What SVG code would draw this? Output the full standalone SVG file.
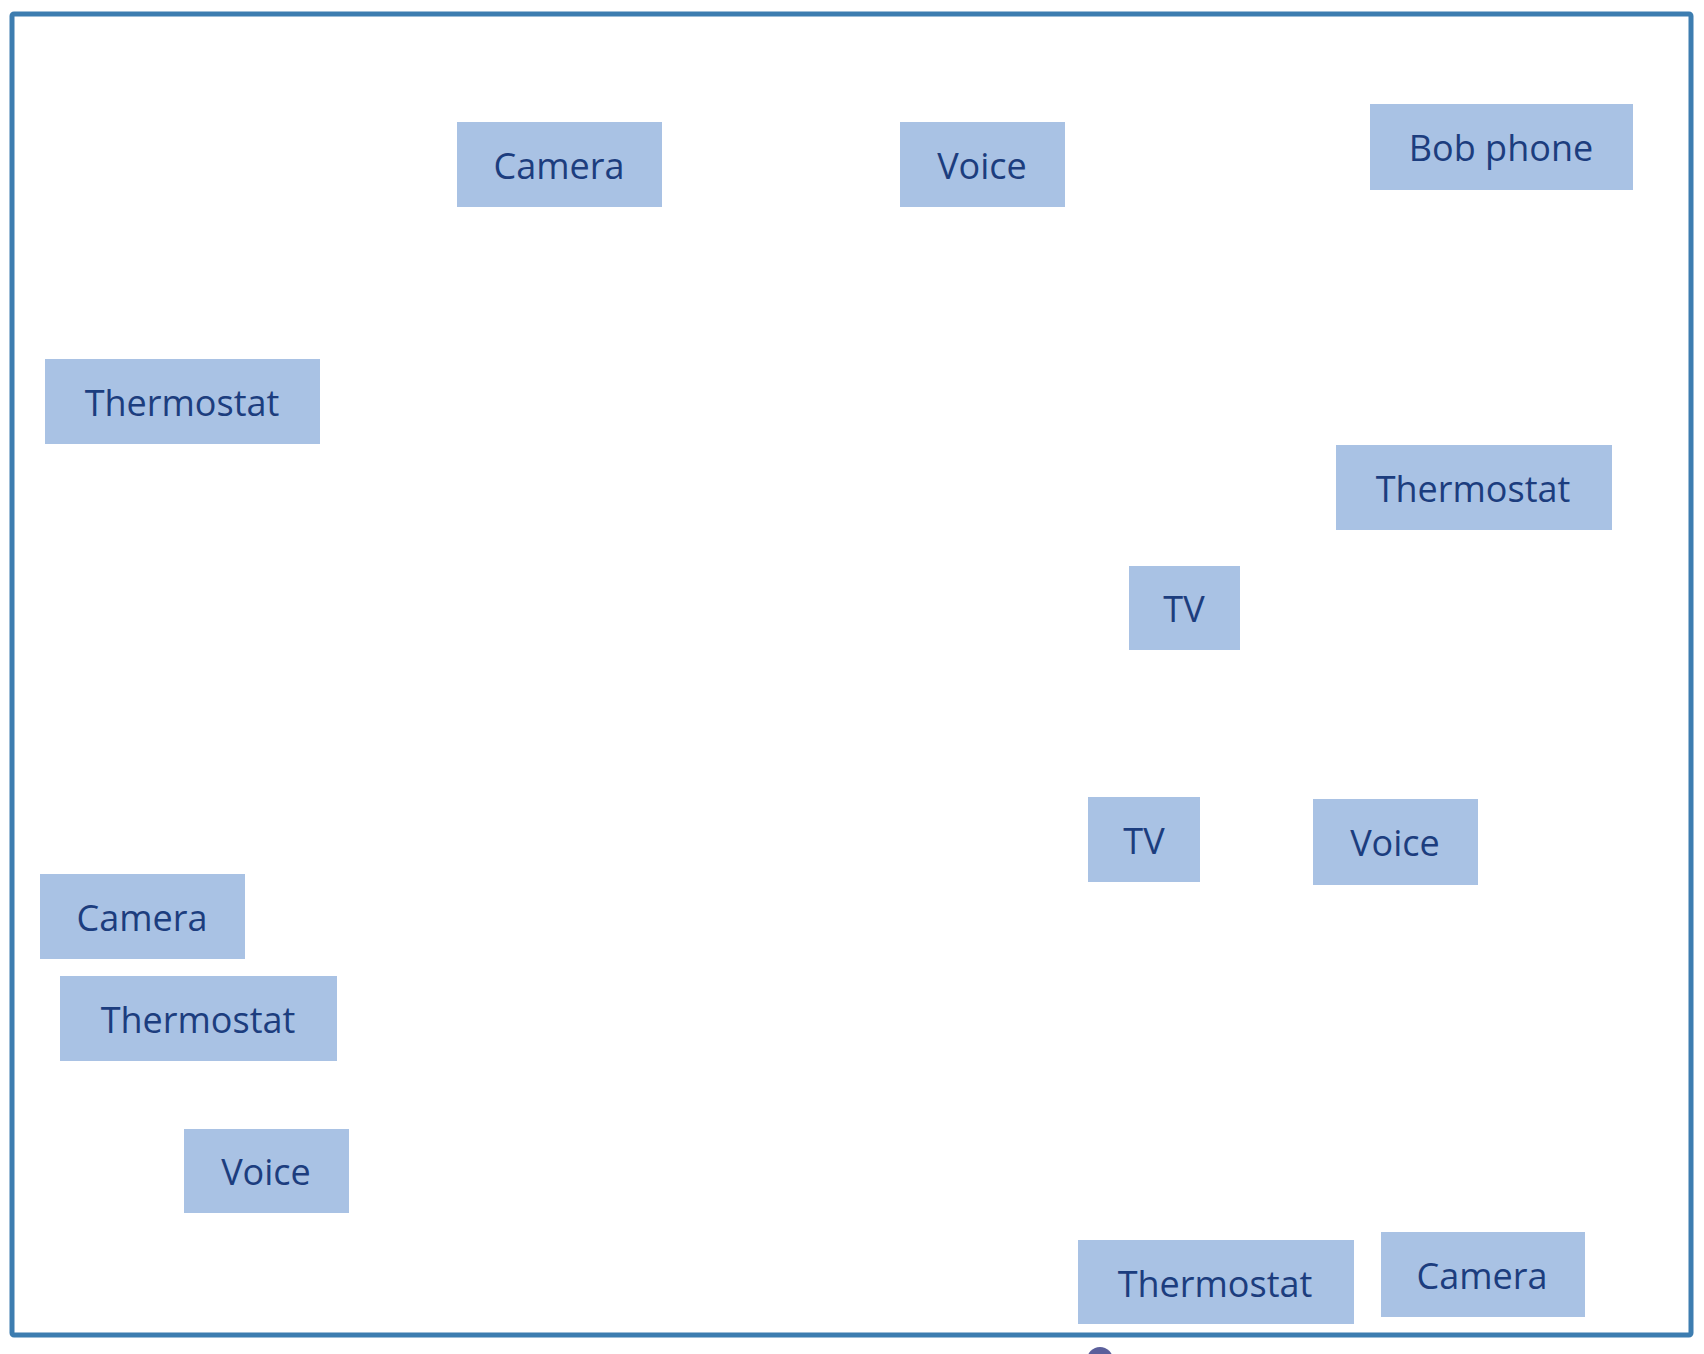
<svg xmlns="http://www.w3.org/2000/svg" width="1704" height="1354" viewBox="0 0 1704 1354">
<style>
.b{fill:#a9c2e4}
.t{font-family:"Open Sans","Noto Sans",sans-serif;font-size:36px;fill:#1c3d7e;text-anchor:middle;dominant-baseline:central}
</style>
<rect width="1704" height="1354" fill="#fff"/>
<rect x="12" y="14" width="1679" height="1321" fill="none" stroke="#3d7db0" stroke-width="5" rx="2"/>
<circle cx="1100" cy="1360" r="13" fill="#5b5f9b"/>
<g id="camera1"><rect class="b" x="457" y="122" width="205" height="85"/><text class="t" x="559" y="165">Camera</text></g>
<g id="voice1"><rect class="b" x="900" y="122" width="165" height="85"/><text class="t" x="982" y="165">Voice</text></g>
<g id="bobphone"><rect class="b" x="1370" y="104" width="263" height="86"/><text class="t" x="1501" y="147">Bob phone</text></g>
<g id="thermostat1"><rect class="b" x="45" y="359" width="275" height="85"/><text class="t" x="182" y="402">Thermostat</text></g>
<g id="thermostat2"><rect class="b" x="1336" y="445" width="276" height="85"/><text class="t" x="1473" y="488">Thermostat</text></g>
<g id="tv1"><rect class="b" x="1129" y="566" width="111" height="84"/><text class="t" x="1184" y="608">TV</text></g>
<g id="tv2"><rect class="b" x="1088" y="797" width="112" height="85"/><text class="t" x="1144" y="840">TV</text></g>
<g id="voice2"><rect class="b" x="1313" y="799" width="165" height="86"/><text class="t" x="1395" y="842">Voice</text></g>
<g id="camera2"><rect class="b" x="40" y="874" width="205" height="85"/><text class="t" x="142" y="917">Camera</text></g>
<g id="thermostat3"><rect class="b" x="60" y="976" width="277" height="85"/><text class="t" x="198" y="1019">Thermostat</text></g>
<g id="voice3"><rect class="b" x="184" y="1129" width="165" height="84"/><text class="t" x="266" y="1171">Voice</text></g>
<g id="thermostat4"><rect class="b" x="1078" y="1240" width="276" height="84"/><text class="t" x="1215" y="1283">Thermostat</text></g>
<g id="camera3"><rect class="b" x="1381" y="1232" width="204" height="85"/><text class="t" x="1482" y="1275">Camera</text></g>
<g id="connectors"></g>
</svg>
